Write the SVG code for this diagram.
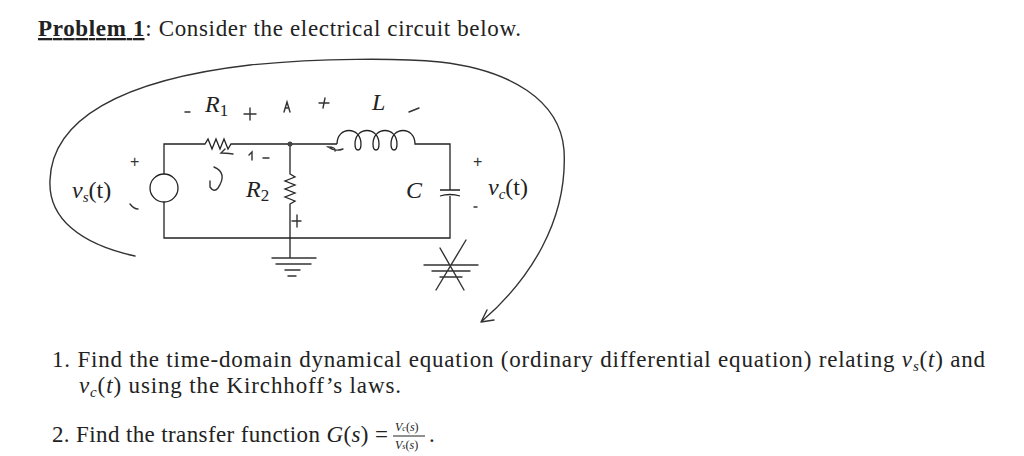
<svg xmlns="http://www.w3.org/2000/svg" width="1024" height="456" viewBox="0 0 1024 456">
<style>
.t{font-family:"Liberation Serif","DejaVu Serif",serif;font-size:23px;fill:#222}
.m{font-family:"Liberation Serif",serif;font-style:italic;font-size:24px;fill:#222}
.w{fill:none;stroke:#222;stroke-width:1.3}
.h{fill:none;stroke:#333;stroke-width:1.4;stroke-linecap:round}
.hs{font-family:"Liberation Sans",sans-serif;font-size:16px;fill:#333}
.f{font-family:"Liberation Serif",serif;font-size:12px;fill:#222}
</style>
<rect width="1024" height="456" fill="#fff"/>
<text class="t" x="38" y="36" textLength="483" lengthAdjust="spacing"><tspan font-weight="bold" text-decoration="underline">Problem 1</tspan>: Consider the electrical circuit below.</text>
<g id="circuit">
<path class="w" d="M164,174 V144 H205 l3,-5 l4,10 l4,-10 l4,10 l4,-10 l4,10 l3,-5 H337"/>
<path class="w" d="M337,144 c0,-18 24,-18 24,0 c0,8 -6,8 -6,0 c0,-18 24,-18 24,0 c0,8 -6,8 -6,0 c0,-18 24,-18 24,0 c0,8 -6,8 -6,0 c0,-18 24,-18 24,0 H450 V190"/>
<path class="w" d="M440,190 H460 M440,196 q10,-3 20,0"/>
<path class="w" d="M450,196 V238 H164 V202"/>
<circle class="w" cx="164" cy="188" r="14"/>
<path class="w" d="M290,144 V174 l5,3 l-10,4 l10,4 l-10,4 l10,4 l-10,4 l10,4 l-5,3 V258"/>
<circle cx="290" cy="144" r="2.5" fill="#444"/>
</g>
<g id="labels">
<text class="m" x="205" y="112">R<tspan font-style="normal" font-size="17" dy="4">1</tspan></text>
<text class="m" x="372" y="110">L</text>
<text class="m" x="246" y="197">R<tspan font-style="normal" font-size="17" dy="4">2</tspan></text>
<text class="m" x="406" y="198">C</text>
<text class="m" x="72" y="198">v<tspan font-size="15" dy="4">s</tspan><tspan font-style="normal" dy="-4">(t)</tspan></text>
<text class="m" x="488" y="195">v<tspan font-size="15" dy="4">c</tspan><tspan font-style="normal" dy="-4">(t)</tspan></text>
<text class="hs" x="130" y="167">+</text>
<text class="hs" x="473" y="167">+</text>
</g>
<g id="handwriting">
<path class="h" d="M185,112 h5 M250,120 v-12 M244,114 h12 M284,112 l3,-10 l3,10 M285,108 h4 M323,108 l2,-10 M319,103 h10 M409,112 l10,-4"/>
<path class="h" d="M233,154 q-8,-1 -12,-1 l4,-4 M252,160 v-8 l-3,3 M263,158 h6 M343,149 q-8,3 -15,-2 q8,0 7,4 M297,227 v-12 M292,221 h9"/>
<path class="h" d="M214,167 q14,6 4,21 q-4,5 -8,-1 l0,-6"/>
<path class="h" d="M130,204 q4,5 8,5 M474,207 h3"/>
<path class="h" d="M272,258 h44 M276,264 h35 M285,270 h15 M288,276 h8"/>
<path class="h" d="M424,265 h54 M432,271 h38 M440,277 h22 M436,290 l30,-50 M440,248 l24,42"/>
<path class="h" d="M135,256 C80,244 48,218 50,180 C52,120 120,80 250,65 C320,58 400,58 440,62 C510,70 560,100 564,150 C568,220 530,280 481,322 M481,322 l6,-12 M481,322 l13,-2"/>
</g>
<g id="questions">
<text class="t" x="52" y="367" textLength="933" lengthAdjust="spacing">1. Find the time-domain dynamical equation (ordinary differential equation) relating <tspan font-style="italic">v</tspan><tspan font-style="italic" font-size="15" dy="4">s</tspan><tspan dy="-4">(</tspan><tspan font-style="italic">t</tspan>) and</text>
<text class="t" x="79" y="393" textLength="322" lengthAdjust="spacing"><tspan font-style="italic">v</tspan><tspan font-style="italic" font-size="15" dy="4">c</tspan><tspan dy="-4">(</tspan><tspan font-style="italic">t</tspan>) using the Kirchhoff’s laws.</text>
<text class="t" x="52" y="442" textLength="336" lengthAdjust="spacing">2. Find the transfer function <tspan font-style="italic">G</tspan>(<tspan font-style="italic">s</tspan>) =</text>
<text class="f" x="395" y="431"><tspan font-style="italic">V</tspan><tspan font-style="italic" font-size="8">c</tspan>(<tspan font-style="italic">s</tspan>)</text>
<line x1="393" y1="436" x2="425" y2="436" stroke="#222" stroke-width="1"/>
<text class="f" x="395" y="449"><tspan font-style="italic">V</tspan><tspan font-style="italic" font-size="8">s</tspan>(<tspan font-style="italic">s</tspan>)</text>
<text class="t" x="429" y="442">.</text>
</g>
</svg>
